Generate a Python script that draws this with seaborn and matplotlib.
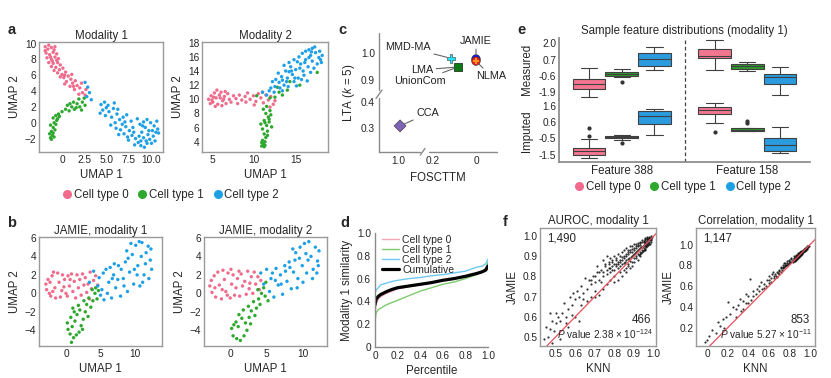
import numpy as np
import pandas as pd
import matplotlib
matplotlib.use('Agg')
import matplotlib.pyplot as plt
import seaborn as sns
from matplotlib.lines import Line2D

sns.set_theme(style='white')
plt.rcParams['font.family'] = ['Liberation Sans', 'DejaVu Sans']
plt.rcParams['mathtext.fontset'] = 'custom'
plt.rcParams['mathtext.rm'] = 'Liberation Sans'
plt.rcParams['mathtext.it'] = 'Liberation Sans:italic'

CELL_TYPES = ['Cell type 0', 'Cell type 1', 'Cell type 2']
PALETTE = {'Cell type 0': '#F06C8C', 'Cell type 1': '#2EA82E', 'Cell type 2': '#1EA0E6'}
BOXPAL = {'Cell type 0': '#F2768F', 'Cell type 1': '#2E9B2E', 'Cell type 2': '#2A9BDF'}
LINEPAL = {'Cell type 0': '#F4A6B6', 'Cell type 1': '#7CCB6A', 'Cell type 2': '#6EC8F0', 'Cumulative': '#000000'}

# ---------------- panel a : modality 1 ----------------
a1_ct0 = [(-1.9,9.6),(-1.6,9.3),(-1.2,9.5),(-0.9,9.2),(-1.8,8.8),(-1.4,8.6),(-1.0,8.9),(-0.6,8.7),(-1.7,8.2),(-1.2,8.0),
          (-0.8,8.3),(-0.4,8.1),(-1.5,7.6),(-1.0,7.5),(-0.5,7.6),(-0.2,7.3),(-1.2,7.1),(-0.7,7.0),(-0.3,6.7),(0.1,6.9),
          (-0.5,6.3),(0.0,6.1),(0.4,6.4),(0.2,5.7),(0.7,5.9),(1.0,5.5),(0.5,5.2),(1.2,5.0),(0.9,4.6),(1.5,5.3),
          (1.7,4.7),(1.4,4.2),(2.0,4.4),(2.3,3.8),(1.9,3.6),(2.6,3.5),(2.2,5.0),(0.3,4.9),(2.7,4.2),(-0.2,5.8),
          (-1.5,9.8),(-0.8,9.6),(-1.9,9.1),(-1.3,8.3),(-0.6,7.9),(-1.1,7.8),(-0.9,6.6),(0.3,6.0),(1.1,6.1),(1.3,4.6)]
a1_ct1 = [(-1.3,-1.9),(-1.1,-1.6),(-1.4,-1.4),(-0.9,-1.8),(-1.2,-1.1),(-1.0,-0.6),(-0.8,-0.9),(-1.3,-0.3),(-0.9,0.0),(-0.6,0.3),
          (-1.0,0.6),(-0.7,0.9),(-0.4,1.1),(-0.5,0.5),(0.0,1.4),(0.4,1.7),(0.8,1.5),(1.1,2.0),(0.6,2.2),(1.4,1.7),
          (1.7,2.4),(2.0,2.0),(2.3,2.6),(1.9,3.0),(2.5,3.1),(2.2,1.6),(1.3,2.6),(2.6,2.2),(-1.2,-2.1),(-1.0,-1.3),
          (-0.7,-0.2),(-0.3,0.8),(0.9,2.4),(1.6,1.9)]
a1_ct2 = [(2.6,5.1),(2.9,4.5),(3.1,3.8),(3.3,2.9),(2.8,3.3),(4.4,2.3),(4.8,2.6),(5.2,2.2),(4.6,1.6),(5.3,1.4),
          (5.8,1.8),(6.2,1.1),(5.6,0.7),(4.9,0.9),(6.5,0.4),(6.0,0.0),(6.8,-0.2),(5.5,-0.3),(7.2,-0.5),(6.6,-0.9),
          (7.6,-1.0),(7.0,-1.4),(7.9,-1.6),(8.3,-2.0),(7.5,-2.2),(8.6,-2.5),(8.9,-2.9),(9.3,-3.1),(8.2,-2.8),(9.6,-2.6),
          (9.9,-2.1),(10.3,-1.7),(10.6,-1.2),(10.8,-0.8),(10.4,-0.4),(10.0,0.0),(9.6,0.4),(9.2,0.1),(9.4,-0.6),(9.0,-1.2),
          (9.8,-1.0),(10.2,-1.0),(8.7,-1.7),(9.2,-1.9),(8.0,-0.6),(7.8,0.2),(6.9,0.7),(5.9,2.5),(4.3,1.2),(9.5,-2.3),
          (10.5,-2.3),(8.5,0.5),(7.3,1.0),(6.4,-1.5),(8.8,-0.2),(5.0,1.9),(6.1,-0.7),(7.1,0.1),(8.1,-1.2),(8.9,-2.3),
          (9.7,-1.5),(10.1,-2.6),(10.9,-1.3),(10.7,0.2),(9.1,-0.4),(7.4,-1.8),(6.3,1.7)]

# ---------------- panel a : modality 2 ----------------
a2_ct0 = [(4.5,10.0),(4.8,10.5),(5.0,9.6),(5.2,10.9),(5.4,10.2),(5.6,9.3),(5.8,10.6),(6.0,11.0),(6.2,9.8),(6.4,10.4),
          (6.6,9.4),(6.8,10.8),(7.0,10.0),(5.3,9.0),(6.1,9.1),(4.7,9.4),(7.2,9.6),(5.9,10.2),(7.8,10.1),(8.2,10.6),
          (8.5,9.9),(8.9,10.4),(9.2,10.9),(9.5,10.0),(9.9,10.5),(10.2,9.7),(10.5,10.8),(10.8,10.2),(11.1,9.5),(11.4,10.6),
          (11.7,9.9),(12.0,10.4),(12.3,9.3),(11.9,8.9),(12.5,9.8),(8.0,9.4),(9.0,9.6),(10.0,9.2),(11.0,11.0),(7.5,10.5),
          (5.5,11.3),(4.9,9.9),(6.5,11.1),(5.1,10.3),(6.3,10.0)]
a2_ct1 = [(10.9,3.4),(11.1,3.7),(11.3,3.5),(11.0,4.2),(11.4,4.6),(11.2,5.1),(11.6,5.5),(11.0,5.8),(11.5,6.3),(11.8,6.8),
          (11.2,7.0),(11.7,7.5),(11.4,8.0),(11.9,8.4),(11.5,9.0),(12.1,6.1),(10.8,6.5),(11.3,4.0),(12.0,7.8),(11.1,8.6),
          (12.5,10.3),(13.0,11.0),(13.4,10.6),(12.8,11.7),(14.0,11.3),(14.3,12.5),(15.5,12.0),(17.6,13.8),(10.3,10.5),(11.9,10.2),
          (11.2,3.3),(10.9,3.9),(11.6,4.9),(11.3,6.7),(11.8,7.2)]
a2_ct2 = [(11.0,11.0),(11.8,11.2),(12.5,11.8),(13.0,12.4),(12.2,12.5),(13.6,12.0),(13.3,13.2),(14.0,13.0),(13.8,14.0),(14.6,13.5),
          (14.4,14.6),(15.0,14.2),(15.3,13.0),(15.6,15.0),(15.9,14.0),(16.2,15.6),(16.5,14.6),(16.8,16.2),(17.0,17.2),(17.4,16.6),
          (17.8,15.9),(18.1,15.2),(17.9,16.8),(17.6,15.0),(17.2,14.4),(16.6,17.0),(16.2,16.8),(15.4,16.0),(14.8,15.6),(14.2,15.2),
          (13.6,14.8),(12.9,13.7),(12.6,12.8),(13.4,11.2),(14.8,12.5),(15.7,12.8),(16.0,13.4),(16.8,13.8),(15.1,11.9),(14.1,11.8),
          (12.0,11.6),(11.5,10.6),(16.4,12.6),(17.0,15.4),(18.2,16.2),(15.8,16.5),(14.5,14.0),(13.1,11.6),(14.9,13.0),(16.1,15.2),
          (17.3,17.4),(16.9,16.7),(18.0,15.6),(15.2,15.3),(14.2,13.9),(13.4,12.7),(16.6,15.9),(15.5,14.4),(13.9,12.5),(12.4,11.0)]

# ---------------- panel b : JAMIE modality 1 ----------------
b1_ct0 = [(-2.8,0.4),(-2.9,1.0),(-2.6,1.5),(-2.4,0.0),(-2.2,-0.3),(-2.0,1.9),(-1.8,2.3),(-1.6,0.6),(-1.5,-0.5),(-1.2,2.2),
          (-1.0,1.2),(-0.8,-0.4),(-0.6,0.3),(-0.5,2.0),(-0.2,1.5),(0.0,0.0),(0.2,-0.3),(0.3,1.9),(0.5,0.8),(0.8,2.1),
          (1.0,0.2),(1.2,1.3),(1.4,-0.5),(1.6,2.0),(1.8,0.6),(2.0,1.5),(2.2,-0.2),(2.4,2.1),(2.6,0.9),(2.8,1.7),
          (3.0,0.1),(3.2,1.0),(3.5,2.3),(3.7,0.5),(4.0,1.4),(4.3,1.9),(4.6,0.9),(-2.3,1.2),(-1.9,0.2),(0.6,1.5),
          (-0.3,0.7),(3.4,-0.6)]
b1_ct1 = [(0.8,-5.3),(1.1,-4.8),(0.6,-4.4),(0.3,-3.9),(0.9,-3.6),(0.2,-3.2),(1.3,-3.0),(0.7,-2.6),(1.6,-2.3),(1.2,-2.0),
          (2.0,-1.8),(1.8,-1.3),(2.5,-2.8),(2.2,-3.5),(2.8,-2.0),(3.0,-1.2),(2.6,-0.8),(3.3,-0.5),(3.6,-1.5),(3.9,-0.8),
          (4.2,0.0),(4.5,-0.6),(4.3,0.6),(3.8,0.4),(1.9,-4.2),(1.5,-4.5),(2.4,-3.9),(3.2,-2.5),(1.0,-1.6),(4.7,0.3)]
b1_ct2 = [(3.4,1.2),(4.0,2.4),(4.8,1.7),(5.2,0.4),(5.5,-0.7),(5.0,-0.2),(5.8,2.6),(6.2,1.2),(6.6,-0.5),(6.9,2.0),
          (7.2,0.6),(7.6,3.0),(7.9,-0.3),(8.3,1.6),(8.6,3.4),(8.9,0.2),(9.2,2.3),(9.6,4.2),(9.8,1.0),(10.1,5.2),
          (10.4,3.0),(10.7,0.8),(11.0,5.5),(11.3,2.0),(11.6,4.4),(11.9,5.1),(12.2,3.6),(12.4,2.6),(12.0,1.6),(11.5,3.2),
          (10.9,4.0),(10.3,2.0),(9.4,5.4),(8.8,4.6),(8.0,2.6),(7.0,3.2),(6.4,2.8),(5.4,2.2),(6.0,0.0),(7.5,1.5),
          (9.0,3.8),(10.6,5.6),(12.3,4.8),(11.1,1.2),(9.9,2.6),(8.4,0.8),(6.7,1.6),(4.6,0.8)]

# ---------------- panel b : JAMIE modality 2 ----------------
b2_ct0 = [(-2.8,0.8),(-2.6,1.4),(-2.5,0.1),(-2.2,1.9),(-2.0,-0.4),(-1.7,2.3),(-1.5,0.9),(-1.2,-0.6),(-1.0,2.5),(-0.8,1.5),
          (-0.6,0.2),(-0.3,2.2),(0.0,-0.5),(0.2,1.0),(0.4,2.0),(0.6,-0.2),(0.8,0.6),(1.0,1.6),(1.3,-0.3),(1.5,2.1),
          (1.7,0.8),(2.0,1.3),(2.2,-0.1),(2.4,2.4),(2.6,0.5),(2.9,1.8),(3.1,0.0),(3.3,2.3),(3.5,1.0),(3.8,1.8),
          (4.0,0.4),(4.2,1.4),(-2.1,0.6),(-1.1,0.4),(0.1,2.6),(1.2,2.4),(2.7,1.1),(-0.4,-0.2)]
b2_ct1 = [(0.2,-3.8),(0.5,-3.4),(0.8,-3.1),(0.4,-4.6),(0.9,-4.9),(1.4,-5.1),(1.9,-4.6),(2.3,-4.0),(2.1,-3.2),(1.6,-2.7),
          (1.2,-2.3),(2.6,-2.6),(2.9,-1.9),(2.5,-1.4),(3.2,-0.9),(3.6,-1.6),(3.9,-0.6),(4.3,0.0),(4.6,0.6),(4.9,1.2),
          (4.1,-1.2),(3.4,-2.4),(2.8,-3.3),(1.8,-1.8),(4.8,-0.3),(5.2,-0.8),(3.8,0.4),(1.1,-3.6)]
b2_ct2 = [(4.2,2.2),(4.6,1.0),(5.0,2.6),(5.4,0.2),(5.6,1.6),(6.0,-0.4),(6.3,2.7),(6.6,0.9),(6.9,2.0),(7.2,-0.1),
          (7.5,3.0),(7.8,1.3),(8.1,3.4),(8.4,0.5),(8.7,2.3),(9.0,4.4),(9.3,1.6),(9.6,5.0),(9.9,3.0),(10.2,5.4),
          (10.5,2.2),(10.8,5.6),(11.1,4.0),(11.4,2.6),(11.7,5.0),(12.0,3.5),(12.2,4.6),(11.9,2.2),(10.7,3.6),(9.5,3.8),
          (8.6,4.8),(8.2,2.8),(7.0,1.0),(6.2,1.4),(5.8,2.2),(10.0,1.2),(11.3,1.6),(9.2,0.6),(7.6,2.4),(12.1,3.0),
          (10.4,4.3),(8.9,3.6)]

# ---------------- panel c ----------------
c_methods = ['MMD-MA', 'LMA', 'UnionCom', 'JAMIE', 'NLMA', 'CCA']
c_foscttm = [0.116, 0.084, 0.084, 0.0, 0.0, 0.99]
c_lta = [0.980, 0.948, 0.948, 0.978, 0.970, 0.308]
c_colors = {'MMD-MA': '#22E5FF', 'LMA': '#0B7A12', 'UnionCom': '#0B7A12', 'JAMIE': '#1A1AE0',
            'NLMA': '#F01E1E', 'CCA': '#8064B4'}
c_markers = {'MMD-MA': 'P', 'LMA': 's', 'UnionCom': 's', 'JAMIE': 'o', 'NLMA': 'o', 'CCA': 'D'}

# ---------------- panel d ----------------
d_pct = [0, 0.01, 0.03, 0.05, 0.1, 0.15, 0.2, 0.3, 0.4, 0.5, 0.6, 0.7, 0.8, 0.9, 0.95, 0.98, 1.0]
d_ct0 = [0.28, 0.38, 0.42, 0.44, 0.47, 0.49, 0.51, 0.53, 0.545, 0.565, 0.585, 0.60, 0.62, 0.645, 0.66, 0.68, 0.72]
d_ct1 = [0.22, 0.30, 0.33, 0.34, 0.37, 0.39, 0.41, 0.45, 0.49, 0.52, 0.55, 0.57, 0.60, 0.635, 0.66, 0.69, 0.745]
d_ct2 = [0.47, 0.50, 0.52, 0.545, 0.56, 0.575, 0.585, 0.60, 0.61, 0.625, 0.635, 0.65, 0.665, 0.70, 0.71, 0.73, 0.77]
d_cum = [0.37, 0.42, 0.445, 0.46, 0.485, 0.505, 0.52, 0.535, 0.55, 0.565, 0.585, 0.60, 0.62, 0.645, 0.66, 0.675, 0.71]

# ---------------- panel e ----------------
FEATURES = ['Feature 388', 'Feature 158']
e_meas_388 = {
    'Cell type 0': [-2.27, -1.9, -1.64, -1.4, -1.22, -1.0, -0.85, -0.5, 0.0],
    'Cell type 1': [-1.08, -0.69, -0.61, -0.55, -0.48, -0.4, -0.32, -0.2, -0.08],
    'Cell type 2': [-0.16, 0.0, 0.21, 0.5, 0.73, 1.0, 1.21, 1.5, 1.68]}
e_meas_158 = {
    'Cell type 0': [-0.16, 0.4, 0.79, 0.88, 0.95, 1.2, 1.53, 1.9, 2.21],
    'Cell type 1': [-0.22, -0.15, -0.06, 0.05, 0.15, 0.25, 0.34, 0.45, 0.52],
    'Cell type 2': [-2.14, -1.7, -1.24, -0.95, -0.72, -0.6, -0.43, -0.2, 0.07]}
e_imp_388 = {
    'Cell type 0': [-1.74, -1.65, -1.58, -1.5, -1.42, -1.33, -1.26, -1.2, -1.13, -1.07, -0.5, -0.32, 0.21],
    'Cell type 1': [-0.78, -0.54, -0.47, -0.43, -0.39, -0.35, -0.30, -0.26, -0.22],
    'Cell type 2': [-0.22, 0.1, 0.45, 0.75, 0.98, 1.15, 1.28, 1.35, 1.41]}
e_imp_158 = {
    'Cell type 0': [-0.09, 0.53, 1.09, 1.2, 1.34, 1.45, 1.56, 1.7, 1.81],
    'Cell type 1': [-0.02, 0.0, 0.02, 0.03, 0.06, 0.08, 0.10, 0.13, 0.16, 0.19, 0.22, 0.49, 0.64],
    'Cell type 2': [-1.39, -1.33, -1.26, -1.05, -0.86, -0.65, -0.43, -0.1, 0.27]}
e_meas_ticks = [2.0, 0.7, -0.6, -1.9]
e_meas_ticklabels = ['2.0', '0.7', '-0.6', '-1.9']
e_imp_ticks = [1.6, 0.6, -0.43, -1.5]
e_imp_ticklabels = ['1.6', '0.6', '-0.5', '-1.5']

# ---------------- panel f ----------------
f_auroc = [(0.995,0.995),(0.99,0.99),(0.985,0.992),(0.98,0.985),(0.99,0.98),(0.975,0.98),(0.97,0.975),(0.98,0.97),
           (0.965,0.97),(0.96,0.965),(0.97,0.96),(0.955,0.96),(0.95,0.955),(0.96,0.95),(0.945,0.95),(0.94,0.945),
           (0.95,0.94),(0.935,0.945),(0.93,0.94),(0.925,0.935),(0.94,0.93),(0.92,0.93),(0.915,0.925),(0.93,0.92),
           (0.91,0.92),(0.905,0.915),(0.92,0.91),(0.9,0.91),(0.895,0.905),(0.91,0.9),(0.89,0.9),(0.885,0.895),
           (0.9,0.89),(0.875,0.89),(0.87,0.885),(0.88,0.875),(0.86,0.88),(0.855,0.87),(0.87,0.86),(0.85,0.865),
           (0.84,0.86),(0.985,0.96),(0.975,0.955),(0.965,0.945),(0.955,0.935),(0.945,0.925),(0.935,0.915),(0.925,0.905),
           (0.99,0.97),(0.98,0.995),(0.97,0.99),(0.96,0.985),(0.95,0.975),(0.94,0.97),(0.93,0.965),(0.92,0.955),
           (0.91,0.95),(0.9,0.94),(0.89,0.935),(0.88,0.93),(0.87,0.92),(0.86,0.91),(0.85,0.9),(0.84,0.895),
           (0.83,0.88),(0.82,0.87),(0.83,0.85),(0.82,0.84),(0.81,0.86),(0.8,0.83),(0.79,0.85),(0.78,0.82),
           (0.77,0.84),(0.76,0.81),(0.75,0.86),(0.74,0.8),(0.73,0.83),(0.72,0.78),(0.71,0.82),(0.7,0.77),
           (0.79,0.88),(0.81,0.89),(0.77,0.87),(0.75,0.85),(0.8,0.8),(0.78,0.78),(0.76,0.76),(0.83,0.82),
           (0.85,0.83),(0.87,0.85),(0.89,0.87),(0.91,0.89),(0.93,0.91),(0.88,0.84),(0.86,0.82),(0.84,0.8),
           (0.82,0.78),(0.8,0.77),(0.74,0.74),(0.72,0.71),(0.7,0.7),(0.69,0.8),(0.68,0.76),(0.67,0.78),
           (0.66,0.74),(0.65,0.79),(0.64,0.72),(0.63,0.75),(0.62,0.7),(0.61,0.73),(0.6,0.69),(0.59,0.72),
           (0.58,0.66),(0.57,0.7),(0.56,0.64),(0.55,0.6),(0.54,0.67),(0.53,0.62),(0.52,0.58),(0.51,0.6),
           (0.5,0.57),(0.49,0.53),(0.48,0.58),(0.47,0.54),(0.46,0.5),(0.45,0.55),(0.44,0.49),(0.47,0.62),
           (0.5,0.62),(0.63,0.66),(0.6,0.6),(0.56,0.55),(0.52,0.49),(0.48,0.47),(0.62,0.58),(0.66,0.68),
           (0.68,0.7),(0.7,0.73),(0.58,0.61),(0.45,0.44),(0.71,0.85),(0.76,0.9),(0.74,0.88),(0.73,0.77),
           (0.64,0.69),(0.55,0.57),
           (0.9,0.96),(0.88,0.95),(0.86,0.94),(0.84,0.92),(0.82,0.91),(0.8,0.9),(0.78,0.89),(0.85,0.93),
           (0.83,0.9),(0.81,0.88),(0.79,0.87),(0.77,0.86),(0.87,0.93),(0.89,0.95),(0.91,0.96),(0.93,0.97),
           (0.92,0.965),(0.94,0.98),(0.96,0.99),(0.97,0.995),(0.86,0.9),(0.84,0.88),(0.82,0.86),(0.8,0.86),
           (0.78,0.84),(0.76,0.83),(0.74,0.82),(0.72,0.82),(0.7,0.8),(0.68,0.78),(0.88,0.92),(0.9,0.93),
           (0.92,0.95),(0.95,0.97),(0.98,0.99),(0.99,1.0),(0.97,0.985),(0.96,0.98),(0.93,0.955),(0.91,0.94),
           (0.89,0.92),(0.87,0.91),(0.85,0.89),(0.83,0.87),(0.81,0.85),(0.79,0.83),(0.95,0.93),(0.93,0.9),
           (0.9,0.87),(0.97,0.95),(0.98,0.96),(0.96,0.93),(0.92,0.88),(0.89,0.85),(0.86,0.84),(0.94,0.92),
           (0.99,0.985),(0.985,0.98),(0.975,0.965),(0.965,0.955)]
f_corr = [(0.98,0.98),(0.97,0.975),(0.96,0.965),(0.955,0.96),(0.95,0.95),(0.94,0.945),(0.93,0.94),(0.925,0.93),
          (0.92,0.925),(0.91,0.92),(0.9,0.91),(0.895,0.905),(0.89,0.895),(0.88,0.89),(0.87,0.88),(0.865,0.875),
          (0.86,0.87),(0.85,0.86),(0.84,0.855),(0.835,0.85),(0.83,0.84),(0.82,0.835),(0.81,0.83),(0.8,0.82),
          (0.79,0.81),(0.78,0.805),(0.77,0.8),(0.76,0.79),(0.75,0.78),(0.74,0.77),(0.73,0.76),(0.97,0.96),
          (0.96,0.95),(0.95,0.94),(0.94,0.935),(0.93,0.925),(0.92,0.91),(0.91,0.9),(0.9,0.895),(0.89,0.88),
          (0.88,0.87),(0.87,0.865),(0.86,0.85),(0.85,0.845),(0.84,0.84),(0.83,0.83),(0.96,0.97),(0.95,0.965),
          (0.94,0.955),(0.93,0.95),(0.92,0.94),(0.91,0.935),(0.9,0.925),(0.89,0.92),(0.88,0.91),(0.87,0.9),
          (0.86,0.895),(0.85,0.885),(0.84,0.875),(0.82,0.86),(0.8,0.85),(0.78,0.84),(0.76,0.82),(0.74,0.8),
          (0.72,0.78),(0.7,0.76),(0.72,0.74),(0.7,0.72),(0.68,0.74),(0.66,0.72),(0.65,0.7),(0.63,0.72),
          (0.6,0.7),(0.58,0.66),(0.55,0.62),(0.52,0.64),(0.5,0.6),(0.48,0.57),(0.45,0.55),(0.42,0.67),
          (0.4,0.5),(0.38,0.52),(0.35,0.46),(0.32,0.48),(0.3,0.42),(0.28,0.38),(0.25,0.4),(0.22,0.33),
          (0.2,0.45),(0.18,0.3),(0.15,0.28),(0.12,0.22),(0.1,0.25),(0.08,0.15),(0.05,0.18),(0.02,0.12),
          (0.0,0.08),(-0.02,0.06),(0.55,0.58),(0.62,0.64),(0.45,0.5),(0.35,0.38),(0.6,0.63),(0.68,0.69),
          (0.4,0.44),(0.28,0.3),(0.16,0.2),(0.75,0.82),
          (0.97,0.97),(0.96,0.96),(0.95,0.955),(0.94,0.94),(0.93,0.93),(0.92,0.92),(0.91,0.91),(0.9,0.9),
          (0.89,0.89),(0.88,0.88),(0.87,0.87),(0.86,0.86),(0.85,0.85),(0.98,0.99),(0.99,0.99),(0.97,0.985),
          (0.9,0.93),(0.88,0.92),(0.86,0.9),(0.84,0.89),(0.82,0.87),(0.8,0.84),(0.78,0.82),(0.76,0.8),
          (0.74,0.78),(0.72,0.77),(0.7,0.75),(0.69,0.73),(0.67,0.7),(0.65,0.68),(0.64,0.74),(0.62,0.68),
          (0.6,0.66),(0.57,0.6),(0.53,0.57),(0.5,0.55),(0.47,0.52),(0.43,0.47),(0.38,0.44),(0.33,0.36)]

# =====================================================================
W, H = 831, 378
fig = plt.figure(figsize=(W / 100, H / 100), dpi=100)
fig.patch.set_facecolor('white')

TICK = 7.3
LAB = 8.3


def rect(l, t, r, b):
    return [l / W, 1 - b / H, (r - l) / W, (b - t) / H]


def umap_df(groups):
    rows = []
    for ct, pts in zip(CELL_TYPES, groups):
        for x, y in pts:
            rows.append((ct, x, y))
    return pd.DataFrame(rows, columns=['cell', 'x', 'y'])


def style_box(ax, color='#9a9a9a'):
    for s in ax.spines.values():
        s.set_visible(True)
        s.set_color(color)
        s.set_linewidth(1.0)


def umap_panel(ax, groups, title, xlim, ylim, xticks, xticklabels, yticks):
    df = umap_df(groups)
    sns.scatterplot(data=df, x='x', y='y', hue='cell', palette=PALETTE, s=6,
                    linewidth=0, legend=False, ax=ax)
    ax.set_xlim(xlim)
    ax.set_ylim(ylim)
    ax.set_xticks(xticks, xticklabels)
    ax.set_yticks(yticks)
    ax.set_title(title, fontsize=LAB, pad=2)
    ax.set_xlabel('UMAP 1', fontsize=LAB, labelpad=3)
    ax.set_ylabel('UMAP 2', fontsize=LAB, labelpad=3)
    style_box(ax)
    ax.tick_params(labelsize=TICK, length=0, pad=2)


ax_a1 = fig.add_axes(rect(39, 42, 163, 152))
umap_panel(ax_a1, [a1_ct0, a1_ct1, a1_ct2], 'Modality 1', (-2.6, 11.4), (-3.7, 10.2),
           [0, 2.5, 5, 7.5, 10], ['0', '2.5', '5.0', '7.5', '10.0'], [-2, 0, 2, 4, 6, 8, 10])
ax_a2 = fig.add_axes(rect(202, 42, 328, 152))
umap_panel(ax_a2, [a2_ct0, a2_ct1, a2_ct2], 'Modality 2', (3.7, 18.9), (2.55, 18.1),
           [5, 10, 15], ['5', '10', '15'], [4, 6, 8, 10, 12, 14, 16, 18])
ax_b1 = fig.add_axes(rect(39, 237, 162, 346))
umap_panel(ax_b1, [b1_ct0, b1_ct1, b1_ct2], 'JAMIE, modality 1', (-3.9, 13.9), (-5.7, 6.1),
           [0, 5, 10], ['0', '5', '10'], [-4, -2, 0, 2, 4, 6])
ax_b2 = fig.add_axes(rect(204, 237, 327, 346))
umap_panel(ax_b2, [b2_ct0, b2_ct1, b2_ct2], 'JAMIE, modality 2', (-3.6, 13.3), (-5.7, 6.1),
           [0, 5, 10], ['0', '5', '10'], [-4, -2, 0, 2, 4, 6])

ct_handles = [Line2D([], [], marker='o', ls='', color=PALETTE[c], markersize=5.5) for c in CELL_TYPES]
fig.legend(ct_handles, CELL_TYPES, loc='center', bbox_to_anchor=(170 / W, 1 - 195 / H), ncol=3,
           frameon=False, fontsize=LAB, handletextpad=0.1, columnspacing=0.7, handlelength=1.0)
fig.legend(ct_handles, CELL_TYPES, loc='center', bbox_to_anchor=(682 / W, 1 - 187 / H), ncol=3,
           frameon=False, fontsize=LAB, handletextpad=0.1, columnspacing=0.7, handlelength=1.0)

# ---------------- panel c ----------------
ax_c = fig.add_axes(rect(379, 33, 497, 152))
cx_v = [-0.2, 0.22, 0.88, 1.2]
cx_u = [-43.0, 47.3, 52.2, 121.0]
cy_v = [0.0, 0.42, 0.88, 1.2]
cy_u = [-54.0, 55.2, 66.6, 153.0]
ax_c.set_xscale('function', functions=(lambda v: np.interp(v, cx_v, cx_u),
                                       lambda u: np.interp(u, cx_u, cx_v)))
ax_c.set_yscale('function', functions=(lambda v: np.interp(v, cy_v, cy_u),
                                       lambda u: np.interp(u, cy_u, cy_v)))
dfc = pd.DataFrame({'method': c_methods, 'foscttm': c_foscttm, 'lta': c_lta})
sns.scatterplot(data=dfc, x='foscttm', y='lta', hue='method', style='method', palette=c_colors,
                markers=c_markers, s=38, edgecolor='#333333', linewidth=0.4, legend=False, ax=ax_c,
                zorder=3)
ax_c.scatter([c_foscttm[4]], [c_lta[4]], marker='P', s=22, color='#FF9A1E', zorder=4, linewidth=0)
ax_c.set_xlim(1.088, -0.0977)
ax_c.set_ylim(0.2077, 1.074)
ax_c.set_xticks([1.0, 0.2, 0.0], ['1.0', '0.2', '0'])
ax_c.set_yticks([0.3, 0.4, 0.9, 1.0], ['0.3', '0.4', '0.9', '1.0'])
ax_c.xaxis.set_minor_locator(matplotlib.ticker.NullLocator())
ax_c.yaxis.set_minor_locator(matplotlib.ticker.NullLocator())
ax_c.tick_params(labelsize=TICK, length=0, pad=3)
ax_c.set_xlabel('FOSCTTM', fontsize=LAB, labelpad=4)
ax_c.set_ylabel('LTA ($\\mathit{k}$ = 5)', fontsize=LAB, labelpad=3)
for s in ax_c.spines.values():
    s.set_visible(False)
sc = '#8a8a8a'
kw = dict(transform=ax_c.transAxes, color=sc, lw=1.0, clip_on=False)
ax_c.plot([0, 0], [0, 0.45], **kw)
ax_c.plot([0, 0], [0.52, 1.0], **kw)
ax_c.plot([-0.025, 0.025], [0.45, 0.52], **kw)
ax_c.plot([0, 0.35], [0, 0], **kw)
ax_c.plot([0.42, 1.0], [0, 0], **kw)
ax_c.plot([0.35, 0.39], [-0.025, 0.03], **kw)
ann = {'MMD-MA': (-31, 8), 'LMA': (-26, -2), 'UnionCom': (-27, -10), 'JAMIE': (0, 13),
       'NLMA': (11, -11), 'CCA': (20, 9)}
for m, x, y in zip(c_methods, c_foscttm, c_lta):
    ax_c.annotate(m, xy=(x, y), xytext=ann[m], textcoords='offset points', fontsize=7.8,
                  ha='center', va='center', color='#222222',
                  arrowprops=dict(arrowstyle='-', color='#666666', lw=0.8, shrinkA=0, shrinkB=3))

# ---------------- panel d ----------------
ax_d = fig.add_axes(rect(375, 233, 488, 347))
dfd = pd.concat([pd.DataFrame({'pct': d_pct, 'sim': v, 'series': n}) for n, v in
                 [('Cell type 0', d_ct0), ('Cell type 1', d_ct1), ('Cell type 2', d_ct2), ('Cumulative', d_cum)]])
sns.lineplot(data=dfd, x='pct', y='sim', hue='series', palette=LINEPAL, size='series',
             sizes={'Cell type 0': 1.0, 'Cell type 1': 1.0, 'Cell type 2': 1.0, 'Cumulative': 2.3},
             ax=ax_d, legend=False)
ax_d.set_xlim(0, 1.0)
ax_d.set_ylim(0, 1.0)
ax_d.set_xticks([0, 0.2, 0.4, 0.6, 0.8, 1.0], ['0', '0.2', '0.4', '0.6', '0.8', '1.0'])
ax_d.set_yticks([0, 0.2, 0.4, 0.6, 0.8, 1.0], ['0', '0.2', '0.4', '0.6', '0.8', '1.0'])
ax_d.tick_params(labelsize=TICK, length=0, pad=3)
ax_d.set_xlabel('Percentile', fontsize=LAB, labelpad=3)
ax_d.set_ylabel('Modality 1 similarity', fontsize=LAB, labelpad=3)
for k in ['top', 'right']:
    ax_d.spines[k].set_visible(False)
for k in ['left', 'bottom']:
    ax_d.spines[k].set_color('#8a8a8a')
    ax_d.spines[k].set_linewidth(1.0)
d_handles = [Line2D([], [], color=LINEPAL[n], lw=2.3 if n == 'Cumulative' else 1.0)
             for n in ['Cell type 0', 'Cell type 1', 'Cell type 2', 'Cumulative']]
ax_d.legend(d_handles, ['Cell type 0', 'Cell type 1', 'Cell type 2', 'Cumulative'], loc='upper left',
            bbox_to_anchor=(0.0, 1.05), frameon=False, fontsize=7.5, handlelength=1.6, handletextpad=0.3,
            labelspacing=0.0, borderpad=0.2)

# ---------------- panel e ----------------
def box_df(d388, d158):
    rows = []
    for feat, dd in zip(FEATURES, [d388, d158]):
        for ct in CELL_TYPES:
            for v in dd[ct]:
                rows.append((feat, ct, v))
    return pd.DataFrame(rows, columns=['feature', 'cell', 'value'])


ax_et = fig.add_axes(rect(559, 38, 810, 100))
ax_eb = fig.add_axes(rect(559, 100, 810, 162))
box_kw = dict(x='feature', y='value', hue='cell', order=FEATURES, hue_order=CELL_TYPES, palette=BOXPAL,
              width=0.78, linewidth=0.8, linecolor='#404040', saturation=1, legend=False,
              flierprops=dict(marker='o', markerfacecolor='#333333', markeredgecolor='#333333', markersize=2))
sns.boxplot(data=box_df(e_meas_388, e_meas_158), ax=ax_et, **box_kw)
sns.boxplot(data=box_df(e_imp_388, e_imp_158), ax=ax_eb, **box_kw)
ax_et.set_ylim(-2.5, 2.4)
ax_eb.set_ylim(-1.97, 1.98)
for ax in (ax_et, ax_eb):
    ax.set_xlim(-0.5, 1.5)
    ax.axvline(0.5, ls='--', color='#444444', lw=0.9, dashes=(3, 2))
    ax.tick_params(labelsize=TICK, length=0, pad=2)
    for k in ['top', 'right']:
        ax.spines[k].set_visible(False)
    ax.spines['left'].set_color('#8a8a8a')
    ax.spines['bottom'].set_color('#8a8a8a')
ax_et.spines['bottom'].set_visible(False)
ax_et.set_xticks([])
ax_et.set_xlabel('')
ax_et.set_yticks(e_meas_ticks, e_meas_ticklabels)
ax_et.set_ylabel('Measured', fontsize=LAB, labelpad=4)
ax_et.set_title('Sample feature distributions (modality 1)', fontsize=LAB, pad=3)
ax_eb.set_yticks(e_imp_ticks, e_imp_ticklabels)
ax_eb.set_ylabel('Imputed', fontsize=LAB, labelpad=4)
ax_eb.set_xlabel('')
ax_eb.tick_params(axis='x', labelsize=LAB, pad=2)

# ---------------- panel f ----------------
def scatter_panel(ax, pts, title, xlim, ylim, xticks, xtl, yticks, ytl, n_up, n_low, ptxt):
    df = pd.DataFrame(pts, columns=['KNN', 'JAMIE'])
    sns.scatterplot(data=df, x='KNN', y='JAMIE', color='#111111', s=2.5, linewidth=0, alpha=0.85,
                    legend=False, ax=ax)
    ax.axline((0, 0), (1, 1), color='#E8505A', lw=0.9)
    ax.set_xlim(xlim)
    ax.set_ylim(ylim)
    ax.set_xticks(xticks, xtl)
    ax.set_yticks(yticks, ytl)
    ax.tick_params(labelsize=TICK, length=0, pad=2)
    ax.set_title(title, fontsize=LAB, pad=3)
    ax.set_xlabel('KNN', fontsize=LAB, labelpad=3)
    ax.set_ylabel('JAMIE', fontsize=LAB, labelpad=3)
    style_box(ax)
    ax.text(0.06, 0.91, n_up, transform=ax.transAxes, fontsize=LAB, ha='left', va='center')
    ax.text(0.96, 0.22, n_low, transform=ax.transAxes, fontsize=LAB, ha='right', va='center')
    ax.text(0.97, 0.10, ptxt, transform=ax.transAxes, fontsize=7.2, ha='right', va='center')


ax_f1 = fig.add_axes(rect(540, 228, 656, 346))
scatter_panel(ax_f1, f_auroc, 'AUROC, modality 1', (0.418, 1.014), (0.453, 1.042),
              [0.5, 0.6, 0.7, 0.8, 0.9, 1.0], ['0.5', '0.6', '0.7', '0.8', '0.9', '1.0'],
              [0.5, 0.6, 0.7, 0.8, 0.9, 1.0], ['0.5', '0.6', '0.7', '0.8', '0.9', '1.0'],
              '1,490', '466', '$\\mathit{P}$ value 2.38 × 10$^{-124}$')
ax_f2 = fig.add_axes(rect(696, 228, 815, 346))
scatter_panel(ax_f2, f_corr, 'Correlation, modality 1', (-0.11, 1.049), (0.023, 1.16),
              [0, 0.2, 0.4, 0.6, 0.8, 1.0], ['0', '0.2', '0.4', '0.6', '0.8', '1.0'],
              [0.2, 0.4, 0.6, 0.8, 1.0], ['0.2', '0.4', '0.6', '0.8', '1.0'],
              '1,147', '853', '$\\mathit{P}$ value 5.27 × 10$^{-11}$')

# panel letters
for lab, x, y in [('a', 12, 30), ('b', 12, 223), ('c', 342, 30), ('d', 345, 223), ('e', 521, 30), ('f', 505, 222)]:
    fig.text(x / W, 1 - y / H, lab, fontsize=10.5, fontweight='bold', ha='center', va='center')

fig.savefig('out.png', dpi=100, facecolor='white')
